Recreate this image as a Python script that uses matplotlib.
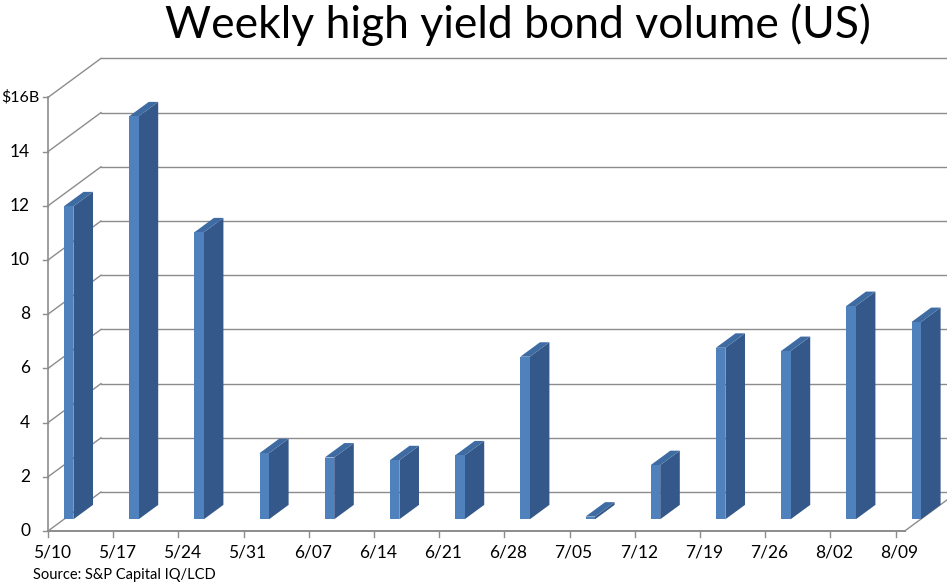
import matplotlib.pyplot as plt
from matplotlib.patches import Polygon

plt.rcParams['font.family'] = ['Lato', 'DejaVu Sans']

# data ($ billions per week)
weeks = ['5/10', '5/17', '5/24', '5/31', '6/07', '6/14', '6/21',
         '6/28', '7/05', '7/12', '7/19', '7/26', '8/02', '8/09']
volume = [11.55, 14.87, 10.59, 2.44, 2.28, 2.18, 2.36,
          6.0, 0.1, 2.0, 6.33, 6.21, 7.87, 7.28]
y_ticks = [0, 2, 4, 6, 8, 10, 12, 14, 16]
y_labels = ['0', '2', '4', '6', '8', '10', '12', '14', '$16B']

# colours
FRONT = '#4F81BD'
SIDE = '#35588A'
TOP = '#3F6BA3'
GRID = '#8C8C8C'

# pixel geometry of the fake 3d box
W, H = 947, 586
X0, Y0 = 48, 531          # pixel of front axis origin
PX_CAT, PX_VAL = 65.2, 27.1
DX, DY = 53 / PX_CAT, 39 / PX_VAL   # full depth offset in data units
D0, D1 = 0.30, 0.67                 # bar depth (front/back)
BAR_W = 9.5 / PX_CAT
X_END = 13.14


def proj(x, v, d):
    return (x + d * DX, v + d * DY)


fig = plt.figure(figsize=(W / 100, H / 100), dpi=100)
ax = fig.add_axes([0, 0, 1, 1])
ax.set_xlim(-X0 / PX_CAT, (W - X0) / PX_CAT)
ax.set_ylim(-(H - Y0) / PX_VAL, Y0 / PX_VAL)
ax.axis('off')

# back wall grid + left wall diagonals
for v in y_ticks:
    a, b = proj(0, v, 1), proj(X_END, v, 1)
    ax.plot([a[0], b[0]], [a[1], b[1]], color=GRID, lw=1.0, zorder=1)
    c = proj(0, v, 0)
    ax.plot([c[0], a[0]], [c[1], a[1]], color=GRID, lw=1.0, zorder=1)
    # tick mark on front axis
    ax.plot([c[0] - 5 / PX_CAT, c[0]], [v, v], color=GRID, lw=1.0, zorder=1)

for v, lab in zip(y_ticks, y_labels):
    if lab.startswith('$'):
        ax.text(-9 / PX_CAT, v, lab, ha='right', va='center', fontsize=11.5)
    else:
        ax.text(-18 / PX_CAT, v, lab, ha='right', va='center', fontsize=12.5)

# front vertical axis
ax.plot([0, 0], [0, y_ticks[-1]], color=GRID, lw=1.2, zorder=2)

# floor: front axis and right edge
ax.plot([0, X_END], [0, 0], color=GRID, lw=1.4, zorder=2)
r0, r1 = proj(X_END, 0, 0), proj(X_END, 0, 1)
ax.plot([r0[0], r1[0]], [r0[1], r1[1]], color=GRID, lw=1.0, zorder=1)

# category ticks and labels
for i, w in enumerate(weeks):
    ax.plot([i, i], [0, -6 / PX_VAL], color=GRID, lw=1.0, zorder=2)
    ax.text(i + 0.06, -21 / PX_VAL, w, ha='center', va='center', fontsize=12.5)

# bars
for i, h in enumerate(volume):
    x0, x1 = i, i + BAR_W
    front = [proj(x0, 0, D0), proj(x1, 0, D0), proj(x1, h, D0), proj(x0, h, D0)]
    side = [proj(x1, 0, D0), proj(x1, 0, D1), proj(x1, h, D1), proj(x1, h, D0)]
    top = [proj(x0, h, D0), proj(x1, h, D0), proj(x1, h, D1), proj(x0, h, D1)]
    ax.add_patch(Polygon(side, closed=True, facecolor=SIDE, edgecolor='none', zorder=3))
    ax.add_patch(Polygon(top, closed=True, facecolor=TOP, edgecolor='none', zorder=3))
    ax.add_patch(Polygon(front, closed=True, facecolor=FRONT, edgecolor='none', zorder=4))

fig.text(518 / W, 1 - 25 / H, 'Weekly high yield bond volume (US)',
         ha='center', va='center', fontsize=32)
fig.text(33 / W, 1 - 575 / H, 'Source: S&P Capital IQ/LCD',
         ha='left', va='center', fontsize=10.5)

fig.savefig('out.png', dpi=100)
